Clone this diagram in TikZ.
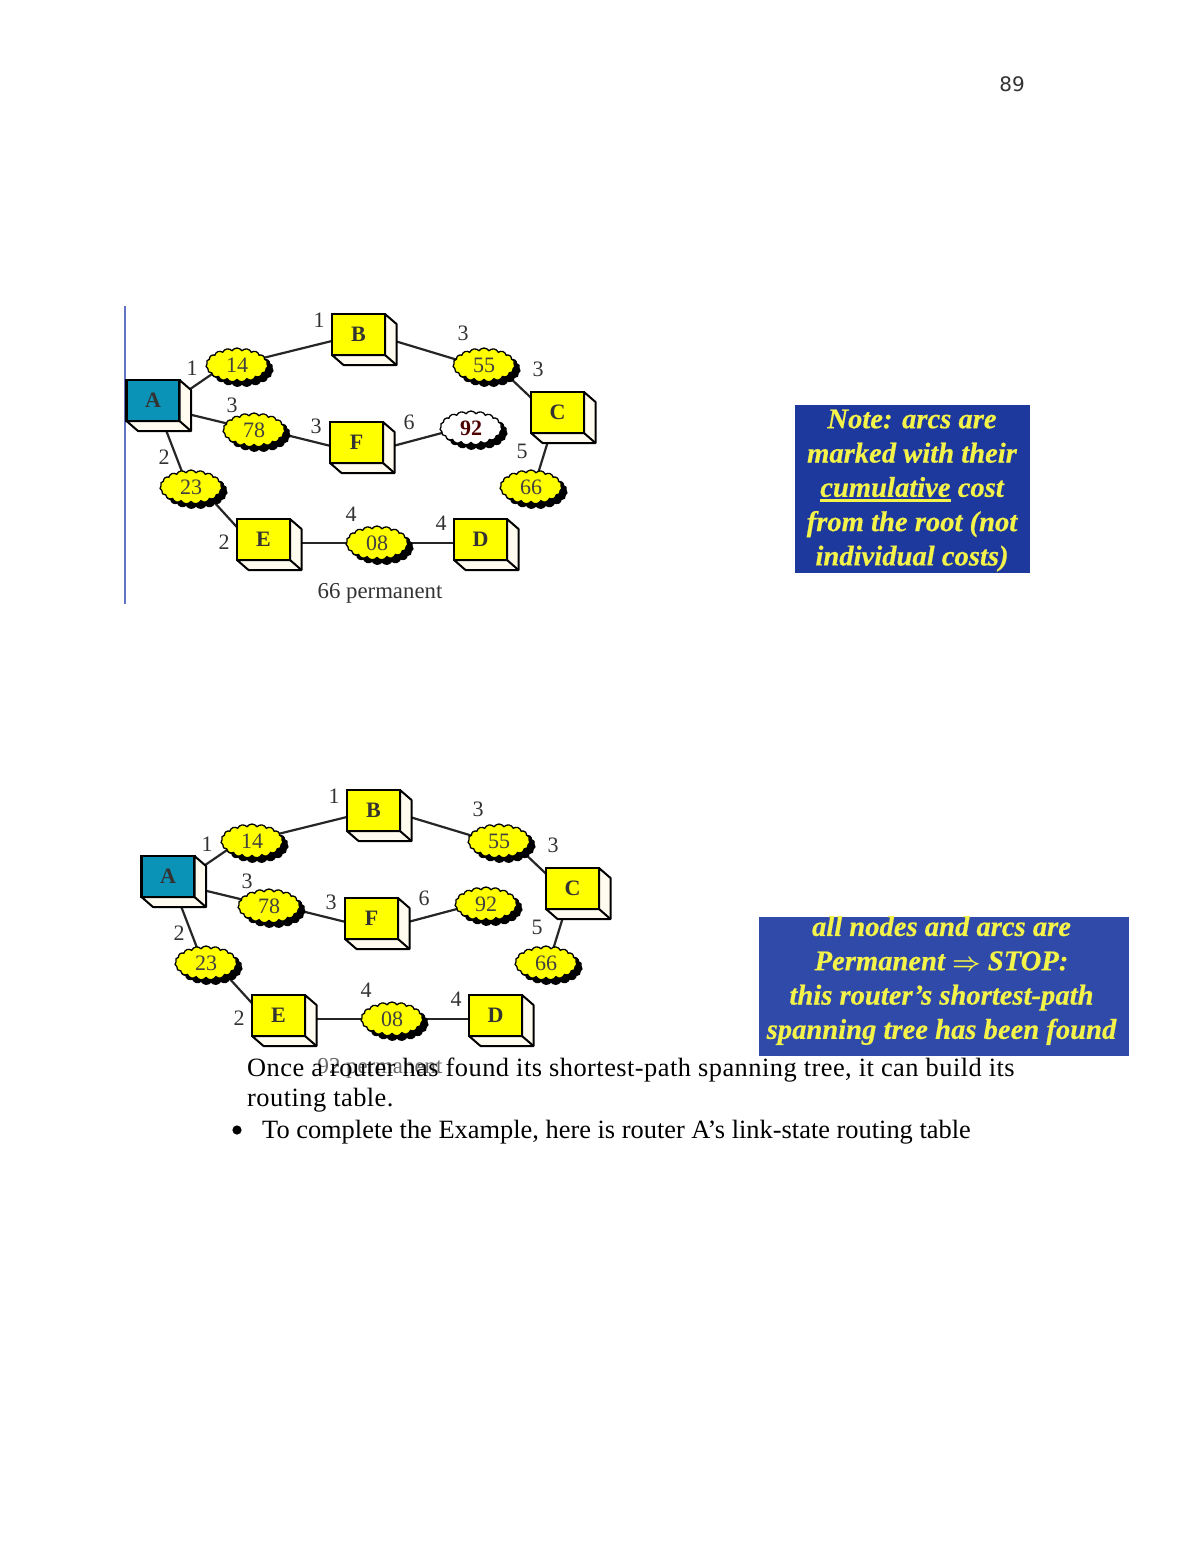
\documentclass[tikz,border=0pt]{standalone}
\usepackage{fontspec}
\setmainfont{Liberation Serif}
\newfontfamily\pagefont{DejaVu Sans}
\newfontfamily\spacedfont[LetterSpace=1.75]{Liberation Serif}
\newfontfamily\notefont[BoldItalicFeatures={FakeBold=0.5}]{Liberation Serif}
\usetikzlibrary{shapes.symbols,shadows}
\pgfdeclarelayer{paper}
\pgfdeclarelayer{wires}
\pgfsetlayers{paper,wires,main}
\definecolor{rootblue}{HTML}{0B93B7}
\definecolor{routeryellow}{HTML}{FFFF00}
\definecolor{facecream}{HTML}{FFFCEF}
\definecolor{noteblue}{HTML}{1E399E}
\definecolor{stopblue}{HTML}{304AA9}
\definecolor{noteyellow}{HTML}{F4F34A}
\definecolor{rulerblue}{HTML}{6474C4}
\definecolor{inkgray}{HTML}{333333}
\tikzset{
  router/.style={draw=black,line width=2.4pt,minimum width=53pt,minimum height=41pt,inner sep=0pt,outer sep=0pt,
    font=\fontsize{22}{24}\selectfont\bfseries,text=black!80},
  rface/.style={draw=black,line width=2pt,fill=facecream,line join=round},
  netcloud/.style={cloud,cloud puffs=19,cloud puff arc=115,aspect=1.9,draw=black,line width=1.3pt,
    minimum width=62pt,minimum height=34pt,inner sep=0pt,outer sep=0pt,
    font=\fontsize{22}{24}\selectfont,text=black!75,
    copy shadow={shadow xshift=5pt,shadow yshift=-4.5pt,fill=black,draw=black}},
  wire/.style={line width=2.2pt,draw=black!85},
  cost/.style={font=\fontsize{22}{24}\selectfont,text=inkgray,inner sep=0pt},
  caption/.style={font=\fontsize{22.8}{24}\selectfont,text=inkgray,inner sep=0pt},
  notebox/.style={inner sep=0pt,outer sep=0pt,draw=none},
  notetext/.style={align=center,inner sep=0pt,text=noteyellow,font=\notefont\fontsize{28.6}{34.3}\selectfont\bfseries\itshape\boldmath},
  body/.style={anchor=base west,inner sep=0pt,text=black,font=\fontsize{26.4}{28}\selectfont},
}
\newcommand{\routerbox}[5]{%
  \node[router,fill=#5] (#1) at (#2,#3) {#4};
  \draw[rface] (#1.north east) -- ++(11.5,10) -- ++(0,41) -- ++(-53,0) -- (#1.south west) -- (#1.south east) -- cycle;
  \draw[rface] (#1.south east) -- ++(11.5,10);
}
\newcommand{\wirelink}[6]{%
  \begin{pgfonlayer}{wires}
    \draw[wire] ([xshift=#2pt,yshift=#3pt]#1.center) -- ([xshift=#5pt,yshift=#6pt]#4.center);
  \end{pgfonlayer}
}
\newcommand{\netdiagram}[4]{%
  \routerbox{A}{153}{400.5}{A}{rootblue}
  \routerbox{B}{358.5}{334.5}{B}{routeryellow}
  \routerbox{C}{557.5}{412.5}{C}{routeryellow}
  \routerbox{F}{356.5}{442.5}{F}{routeryellow}
  \routerbox{E}{263.5}{539.5}{\raisebox{-2pt}{E}}{routeryellow}
  \routerbox{D}{480.5}{539.5}{\raisebox{-2pt}{D}}{routeryellow}
  \node[netcloud,fill=routeryellow] (c14) at (237,365) {14};
  \node[netcloud,fill=routeryellow] (c55) at (484,365) {55};
  \node[netcloud,fill=routeryellow] (c78) at (254,430) {78};
  \node[netcloud,fill=#1,text=#2,font=\fontsize{22}{24}\selectfont#4] (c92) at (471,428) {92};
  \node[netcloud,fill=routeryellow] (c23) at (191,487) {23};
  \node[netcloud,fill=routeryellow] (c66) at (531,487) {66};
  \node[netcloud,fill=routeryellow] (c08) at (377,543) {08};
  \wirelink{A}{27}{4.5}{c14}{-22}{-7}
  \wirelink{c14}{13}{3.8}{B}{-18.5}{-4.5}
  \wirelink{B}{26.5}{-3.5}{c55}{-13}{1}
  \wirelink{c55}{17}{-4.3}{C}{-12.5}{1.5}
  \wirelink{A}{17}{-9.2}{c78}{-14}{3.4}
  \wirelink{c78}{16}{-1}{F}{-11.5}{-7}
  \wirelink{F}{18.5}{-8.3}{c92}{-16}{-1.5}
  \wirelink{A}{7.2}{-14.5}{c23}{-5.8}{7}
  \wirelink{c23}{16.6}{-8}{E}{-18.5}{3.5}
  \wirelink{C}{-4.5}{-12.5}{c66}{5}{7}
  \wirelink{E}{0}{-3.5}{c08}{0}{0}
  \wirelink{c08}{0}{0}{D}{0}{-3.5}
  \node[cost] (l1) at (319,320) {1};
  \node[cost] (l2) at (463,333) {3};
  \node[cost] (l3) at (192,368) {1};
  \node[cost] (l4) at (538,369) {3};
  \node[cost] (l5) at (232,405) {3};
  \node[cost] (l6) at (316,426) {3};
  \node[cost] (l7) at (409,422) {6};
  \node[cost] (l8) at (164,457) {2};
  \node[cost] (l9) at (522,451) {5};
  \node[cost] (l10) at (351,514) {4};
  \node[cost] (l11) at (441,523) {4};
  \node[cost] (l12) at (224,542) {2};
  #3
}
\begin{document}
\begin{tikzpicture}[x=1pt,y=-1pt]
\useasboundingbox (0,0) rectangle (1200,1553);
\begin{pgfonlayer}{paper}
  \fill[white] (0,0) rectangle (1200,1553);
\end{pgfonlayer}
\node[font=\pagefont\fontsize{20}{22}\selectfont,text=black!80,inner sep=0pt] (pageno) at (1012,84) {89};
\draw[rulerblue,line width=1.3pt] (125,306) -- (125,604);
\begin{scope}[name prefix=first-]
  \netdiagram{white}{black!70!red}{\node[caption] (cap) at (380,593) {66 permanent};}{\bfseries}
\end{scope}
\node[notebox,fill=noteblue,minimum width=235pt,minimum height=168pt] (note) at (912.5,489) {};
\node[notetext] (notet) at (912,490.5) {Note: arcs are\\marked with their\\\makebox[0pt][l]{\rule[-5pt]{131pt}{2.6pt}}cumulative cost\\from the root (not\\individual costs)};
\begin{scope}[name prefix=second-,shift={(15,476)}]
  \netdiagram{routeryellow}{black!75}{\node[caption,text=black!60] (cap) at (365,592) {92 permanent};}{}
\end{scope}
\node[notebox,fill=stopblue,minimum width=370pt,minimum height=139pt] (stop) at (944,986.5) {};
\node[notetext] (stopt) at (941.5,980.5) {all nodes and arcs are\\Permanent $\Rightarrow$ STOP:\\this router’s shortest-path\\spanning tree has been found};
\node[body] (t1) at (247,1076) {\spacedfont Once a router has found its shortest-path spanning tree, it can build its};
\node[body] (t2) at (247,1106) {\spacedfont routing table.};
\fill[black] (237,1130) circle (4.6pt);
\node[body] (t3) at (262,1138) {To complete the Example, here is router A’s link-state routing table};
\end{tikzpicture}
\end{document}
